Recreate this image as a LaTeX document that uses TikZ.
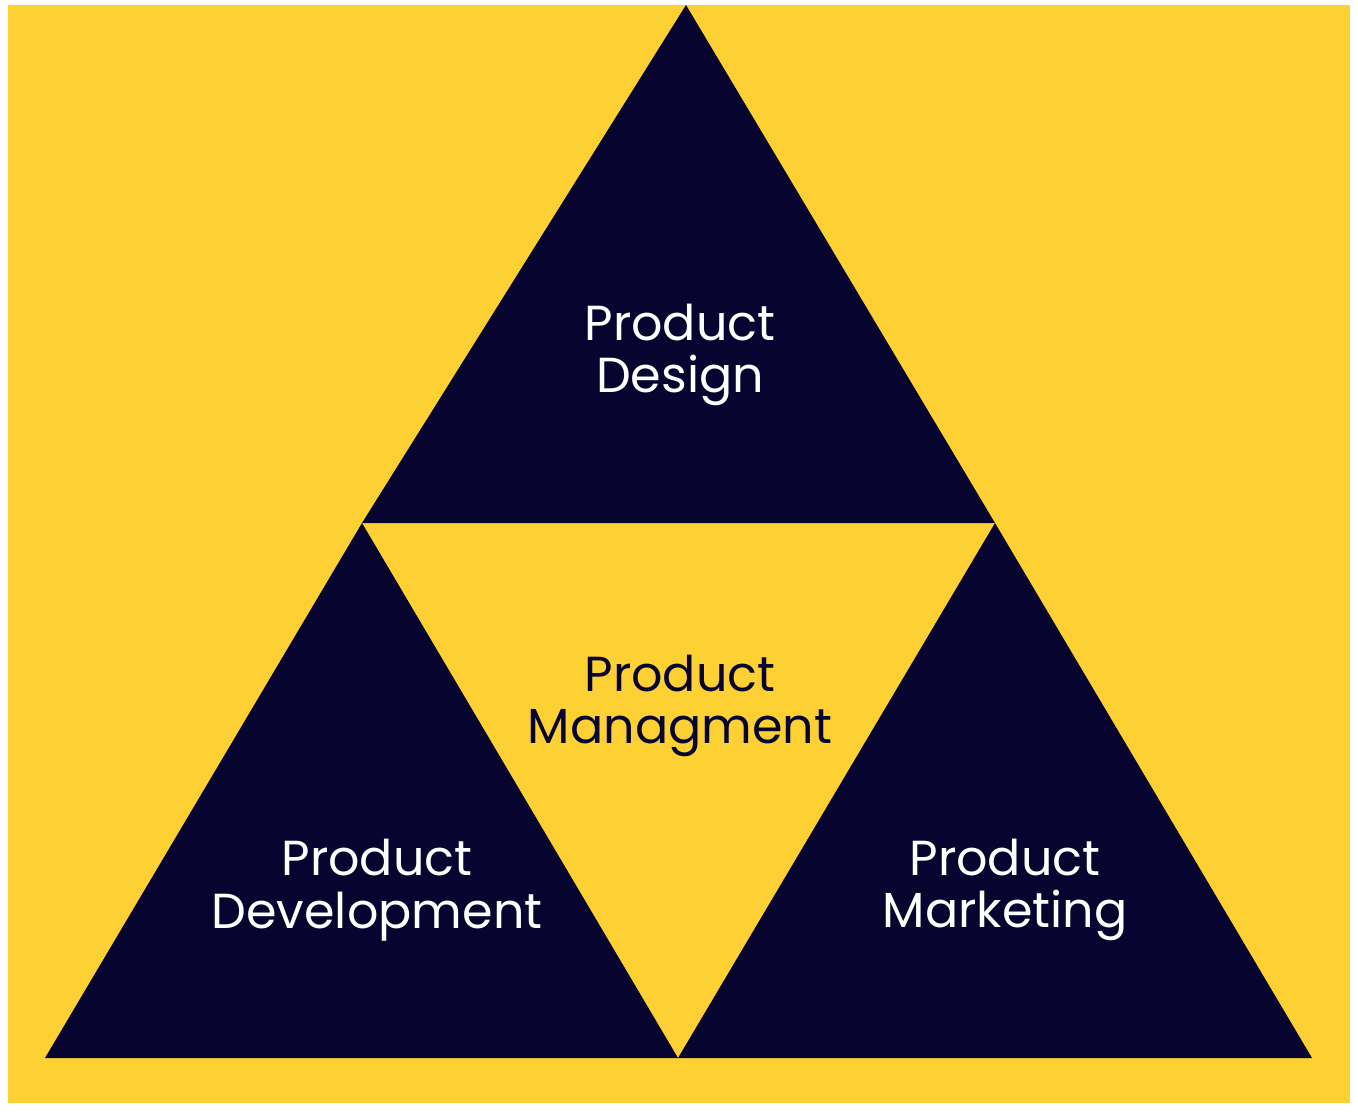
\documentclass[tikz,border=0pt]{standalone}
\usepackage{fontspec}
\setmainfont{Poppins}
\definecolor{gold}{HTML}{FDD133}
\definecolor{ink}{HTML}{07042F}
\begin{document}
\begin{tikzpicture}[x=0.02cm,y=-0.02cm,
    label/.style={align=center,font=\fontsize{28}{30}\selectfont}]
  \useasboundingbox (0,0) rectangle (1358,1113);
  \fill[gold] (8,5) rectangle (1350,1103);
  % corners of the big triangle
  \coordinate (top) at (686,5);
  \coordinate (ml) at (362,523);
  \coordinate (mr) at (995,523);
  \coordinate (bl) at (45,1058);
  \coordinate (bm) at (678,1058);
  \coordinate (br) at (1312,1058);
  \fill[ink] (top) -- (mr) -- (ml) -- cycle;
  \fill[ink] (ml) -- (bm) -- (bl) -- cycle;
  \fill[ink] (mr) -- (br) -- (bm) -- cycle;
  \node[label,text=white] (design) at (680,355) {Product\\Design};
  \node[label,text=ink] (mgmt) at (680,706) {Product\\Managment};
  \node[label,text=white] (dev) at (377,890) {Product\\Development};
  \node[label,text=white] (mkt) at (1005,890) {Product\\Marketing};
\end{tikzpicture}
\end{document}
